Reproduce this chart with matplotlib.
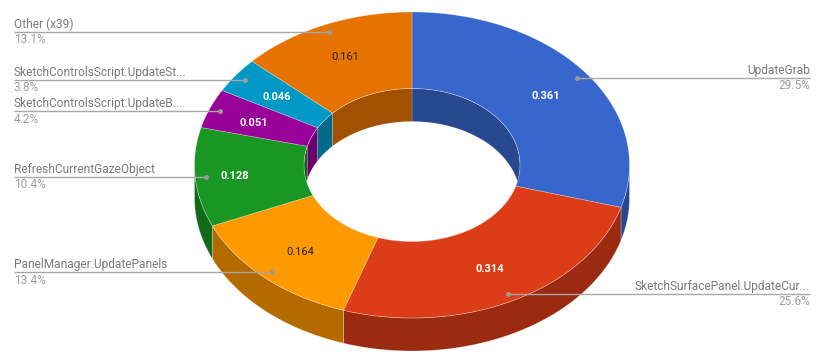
import numpy as np
import matplotlib
matplotlib.use("Agg")
import matplotlib.pyplot as plt
from matplotlib.colors import to_rgb
from matplotlib.patches import Ellipse, Polygon

# slices, clockwise from 12 o'clock
names = ["UpdateGrab", "SketchSurfacePanel.UpdateCur...", "PanelManager.UpdatePanels",
         "RefreshCurrentGazeObject", "SketchControlsScript.UpdateB...",
         "SketchControlsScript.UpdateSt...", "Other (x39)"]
values = [0.361, 0.314, 0.164, 0.128, 0.051, 0.046, 0.161]
percents = ["29.5%", "25.6%", "13.4%", "10.4%", "4.2%", "3.8%", "13.1%"]
colors = ["#3767cc", "#dc3d18", "#ff9900", "#1a9623", "#990099", "#0099c6", "#e67300"]
dark_labels = [False, False, True, False, False, False, True]

# small pixel nudges for the value labels, the source does not sit them on one radius
nudge_x = [3, 2, -2, -15, -7, -3, -1]
nudge_y = [0, 2, 2, 2, 0, -1, -3]

# pixel geometry of the tilted ring
CX, CY = 412, 165
RX, RY = 217.5, 153
INNER_RX, INNER_RY = 108, 76.5
DEPTH = 33
LABEL_LEFT, LABEL_RIGHT = 14, 810
TEXT_GREY = "#7a7a7a"
PCT_GREY = "#9e9e9e"
LINE_GREY = "#a8a8a8"

plt.rcParams["font.family"] = ["Roboto", "DejaVu Sans"]


def shade(color, k=0.7):
    return tuple(c * k for c in to_rgb(color))


def arc(a0, a1, rx, ry, dy=0.0):
    # angles in radians, clockwise from the top
    t = np.linspace(a0, a1, max(int(np.degrees(a1 - a0)) * 2, 2))
    return np.column_stack([CX + rx * np.sin(t), CY - ry * np.cos(t) + dy])


def draw_walls(ax, a0, a1, color):
    # outer wall, front half only
    lo, hi = max(a0, np.pi / 2), min(a1, 1.5 * np.pi)
    if hi > lo:
        pts = np.vstack([arc(lo, hi, RX, RY), arc(lo, hi, RX, RY, DEPTH)[::-1]])
        ax.add_patch(Polygon(pts, fc=shade(color), ec=(1, 1, 1, 0.35), lw=0.5, zorder=1))


def draw_inner_wall(ax, a0, a1, color, clip):
    # the back half of the hole, seen through the top opening
    parts = [(max(a0, 1.5 * np.pi), a1), (a0, min(a1, np.pi / 2))]
    for lo, hi in parts:
        if hi > lo:
            pts = np.vstack([arc(lo, hi, INNER_RX, INNER_RY),
                             arc(lo, hi, INNER_RX, INNER_RY, DEPTH)[::-1]])
            p = Polygon(pts, fc=shade(color), ec=(1, 1, 1, 0.3), lw=0.4, zorder=2)
            ax.add_patch(p)
            p.set_clip_path(clip)


def draw_leader(ax, i, mid):
    x = CX + 0.95 * RX * np.sin(mid)
    y = CY - 0.95 * RY * np.cos(mid)
    right = mid < np.pi
    x_end = LABEL_RIGHT if right else LABEL_LEFT
    ha = "right" if right else "left"
    ax.plot([x, x_end], [y, y], color=LINE_GREY, lw=1.0, zorder=5, solid_capstyle="butt")
    ax.plot([x], [y], "o", ms=3.6, color="#999999", mec="none", zorder=6)
    ax.text(x_end, y - 1.0, names[i], ha=ha, va="bottom", fontsize=8.55, color=TEXT_GREY, zorder=7)
    ax.text(x_end, y + 1.5, percents[i], ha=ha, va="top", fontsize=8.55, color=PCT_GREY, zorder=7)


def main():
    fig = plt.figure(figsize=(8.25, 3.62), dpi=100)
    ax = fig.add_axes([0, 0, 1, 1])
    ax.set_xlim(0, 825)
    ax.set_ylim(362, 0)
    ax.axis("off")

    vals = np.array(values)
    edges = np.concatenate([[0], np.cumsum(vals)]) / vals.sum() * 2 * np.pi

    hole = Ellipse((CX, CY), 2 * INNER_RX, 2 * INNER_RY, transform=ax.transData)

    for i, color in enumerate(colors):
        a0, a1 = edges[i], edges[i + 1]
        draw_walls(ax, a0, a1, color)
        draw_inner_wall(ax, a0, a1, color, hole)

        # top face
        pts = np.vstack([arc(a0, a1, RX, RY), arc(a0, a1, INNER_RX, INNER_RY)[::-1]])
        ax.add_patch(Polygon(pts, fc=color, ec=(1, 1, 1, 0.35), lw=0.5, zorder=3))

        mid = (a0 + a1) / 2
        tx = CX + 0.75 * RX * np.sin(mid) + nudge_x[i]
        ty = CY - 0.75 * RY * np.cos(mid) + nudge_y[i]
        if dark_labels[i]:
            ax.text(tx, ty, f"{values[i]:.3f}", ha="center", va="center",
                    fontsize=8, color="#222222", zorder=4)
        else:
            ax.text(tx, ty, f"{values[i]:.3f}", ha="center", va="center",
                    fontsize=8, color="white", fontweight="bold", zorder=4)

        draw_leader(ax, i, mid)

    fig.savefig("out.png", dpi=100)
    plt.close(fig)


if __name__ == "__main__":
    main()
